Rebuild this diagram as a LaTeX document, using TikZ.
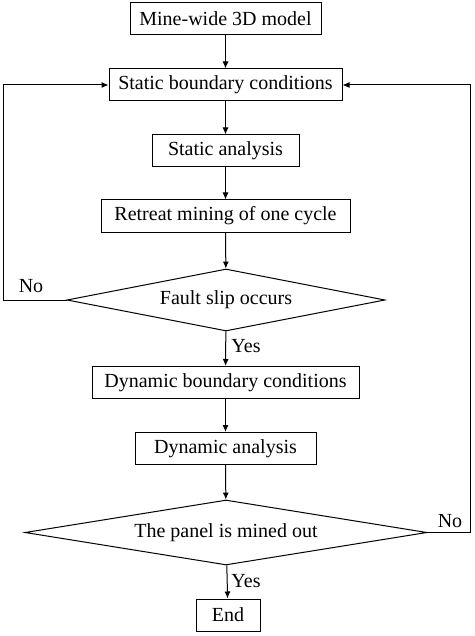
\documentclass[tikz,border=0pt]{standalone}
\usepackage{fontspec}
\setmainfont{Liberation Serif}
\usetikzlibrary{shapes.geometric,arrows.meta}
\tikzset{
  box/.style={draw, line width=1pt, minimum height=32pt, inner sep=0pt},
  decision/.style={draw, diamond, aspect=5, line width=1pt, inner sep=0pt},
  arr/.style={-{Latex[length=7pt,width=6pt]}, line width=1pt},
  lbl/.style={inner sep=0pt}
}
\begin{document}
\begin{tikzpicture}[x=1pt, y=-1pt, font=\fontsize{20}{22}\selectfont]
\useasboundingbox (0,0) rectangle (474,636);
% Process boxes
\node[box, minimum width=191pt] (model) at (225.5,19) {Mine-wide 3D model};
\node[box, minimum width=233pt] (sbc) at (225.5,85) {Static boundary conditions};
\node[box, minimum width=147pt] (sana) at (225.5,151) {Static analysis};
\node[box, minimum width=249pt] (retreat) at (225.5,216) {Retreat mining of one cycle};
\node[decision, minimum width=318pt, minimum height=62pt] (slip) at (226,300) {Fault slip occurs};
\node[box, minimum width=267pt] (dbc) at (225.5,382.5) {Dynamic boundary conditions};
\node[box, minimum width=181pt] (dana) at (225.5,448.5) {Dynamic analysis};
\node[decision, minimum width=402pt, minimum height=65pt] (mined) at (226,532.5) {The panel is mined out};
\node[box, minimum width=64pt] (end) at (228,615) {End};

% Main flow
\draw[arr] (model) -- (sbc);
\draw[arr] (sbc) -- (sana);
\draw[arr] (sana) -- (retreat);
\draw[arr] (retreat) -- (slip);
\draw[arr] (slip) -- (dbc);
\draw[arr] (dbc) -- (dana);
\draw[arr] (dana) -- (mined);
\draw[arr] (mined) -- (end);

% Feedback loops
\coordinate (lbend) at (3,300);
\coordinate (rbend) at (470,532.5);
\draw[arr] (slip.west) -- (lbend) |- (sbc.west);
\draw[arr] (mined.east) -- (rbend) |- (sbc.east);

% Labels
\node[lbl] (no1) at (31,286) {No};
\node[lbl] (yes1) at (246,346) {Yes};
\node[lbl] (no2) at (450,521) {No};
\node[lbl] (yes2) at (246,581) {Yes};
\end{tikzpicture}
\end{document}
